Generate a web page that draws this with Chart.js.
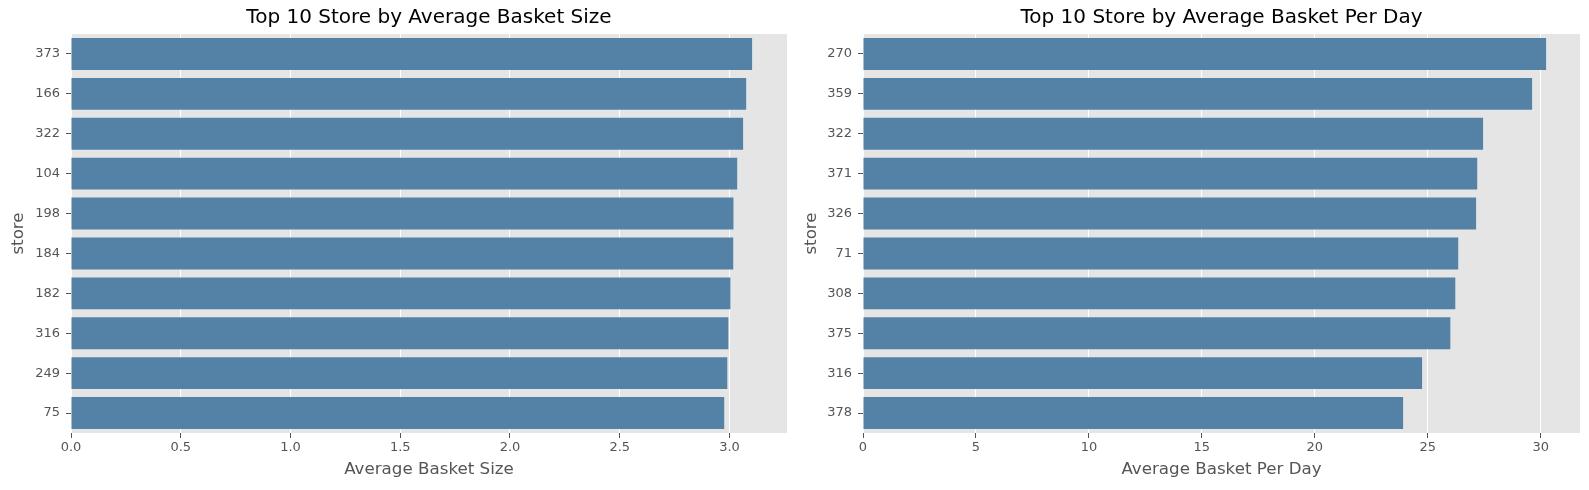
<!DOCTYPE html>
<html>
<head>
<meta charset="utf-8">
<script src="https://cdn.jsdelivr.net/npm/chart.js@4"></script>
<style>
  html, body { margin: 0; padding: 0; background: #fff; width: 1589px; height: 490px; overflow: hidden; }
  .box { position: absolute; top: 0; height: 490px; }
  #b1 { left: 0; width: 795px; }
  #b2 { left: 795px; width: 794px; }
</style>
</head>
<body>
<div class="box" id="b1"><canvas id="c1"></canvas></div>
<div class="box" id="b2"><canvas id="c2"></canvas></div>
<script>
// ---- data ----
const storesSize = ['373','166','322','104','198','184','182','316','249','75'];
const valuesSize = [3.103, 3.076, 3.062, 3.035, 3.018, 3.017, 3.004, 2.995, 2.990, 2.976];
const ticksSize = [0, 0.5, 1.0, 1.5, 2.0, 2.5, 3.0];

const storesDay = ['270','359','322','371','326','71','308','375','316','378'];
const valuesDay = [30.24, 29.62, 27.45, 27.19, 27.14, 26.35, 26.22, 26.0, 24.75, 23.91];
const ticksDay = [0, 5, 10, 15, 20, 25, 30];

const BAR = '#5481a6';
const FONT = "'DejaVu Sans', sans-serif";

const bgPlugin = {
  id: 'bg',
  beforeDraw(chart) {
    const a = chart.chartArea, ctx = chart.ctx;
    ctx.save();
    ctx.fillStyle = '#e5e5e5';
    ctx.fillRect(a.left, a.top, a.right - a.left, a.bottom - a.top);
    ctx.restore();
  }
};

function makeChart(id, labels, values, ticks, xmax, title, xlabel, yWidth, padRight, decimals, yTitlePad) {
  return new Chart(document.getElementById(id), {
    type: 'bar',
    data: {
      labels: labels,
      datasets: [{
        data: values,
        backgroundColor: BAR,
        borderWidth: 0,
        barPercentage: 0.8,
        categoryPercentage: 1.0
      }]
    },
    options: {
      indexAxis: 'y',
      responsive: true,
      maintainAspectRatio: false,
      animation: false,
      layout: { padding: { left: 0, right: padRight, top: 0, bottom: 0 } },
      plugins: {
        legend: { display: false },
        tooltip: { enabled: false },
        title: {
          display: true,
          text: title,
          fullSize: false,
          color: '#000',
          font: { family: FONT, size: 20, weight: 'normal', lineHeight: 1.2 },
          padding: { top: 6, bottom: 4 }
        }
      },
      scales: {
        x: {
          type: 'linear',
          min: 0,
          max: xmax,
          border: { display: false },
          grid: { color: '#ffffff', lineWidth: 1, drawTicks: true, tickLength: 5, tickColor: '#555555' },
          ticks: {
            color: '#555555',
            padding: 2,
            maxRotation: 0,
            font: { family: FONT, size: 13 },
            callback: v => Number(v).toFixed(decimals)
          },
          afterBuildTicks: s => { s.ticks = ticks.map(v => ({ value: v })); },
          afterFit: s => { s.height = 57; },
          title: {
            display: true,
            text: xlabel,
            color: '#555555',
            font: { family: FONT, size: 16.7, lineHeight: 1.2 },
            padding: { top: 0, bottom: 10.6 }
          }
        },
        y: {
          type: 'category',
          border: { display: false },
          grid: { display: true, offset: false, drawOnChartArea: false, drawTicks: true, tickLength: 5, tickColor: '#555555' },
          ticks: {
            color: '#555555',
            padding: 6,
            font: { family: FONT, size: 13 }
          },
          afterFit: s => { s.width = yWidth; },
          title: {
            display: true,
            text: 'store',
            color: '#555555',
            font: { family: FONT, size: 16.7, lineHeight: 1.2 },
            padding: { top: yTitlePad, bottom: 0 }
          }
        }
      }
    },
    plugins: [bgPlugin]
  });
}

makeChart('c1', storesSize, valuesSize, ticksSize, 3.262,
  'Top 10 Store by Average Basket Size', 'Average Basket Size', 71, 8, 1, 8.3);
makeChart('c2', storesDay, valuesDay, ticksDay, 31.74,
  'Top 10 Store by Average Basket Per Day', 'Average Basket Per Day', 68, 9, 0, 7);
</script>
</body>
</html>
